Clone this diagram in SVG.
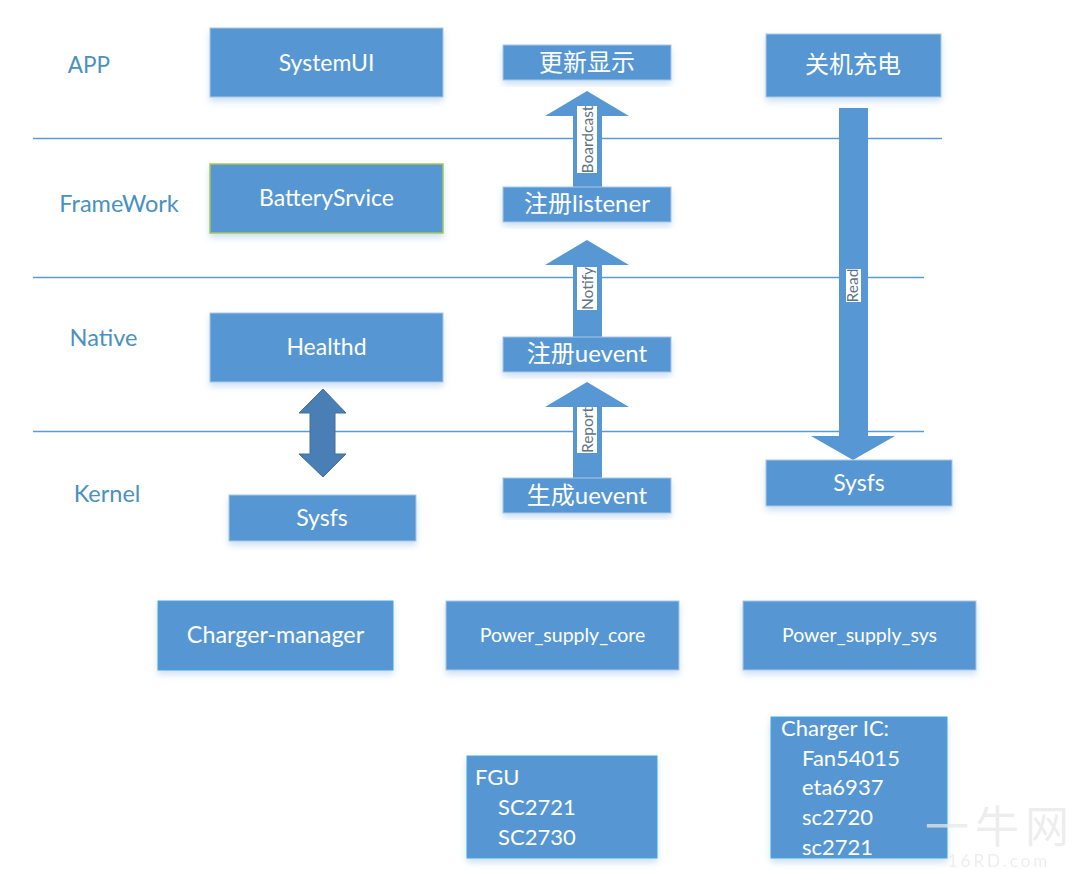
<svg xmlns="http://www.w3.org/2000/svg" width="1079" height="869" viewBox="0 0 1079 869">
<style>
text{font-family:Lato,"Noto Sans CJK SC",sans-serif;}
.box{fill:#5797d3;stroke:#a9c7e6;stroke-width:1;filter:url(#sh);}
.nb{fill:#5797d3;stroke:#41a9e2;stroke-width:1;filter:url(#sh);}
.t{fill:#fff;font-size:23px;text-anchor:middle;}
.l{fill:#fff;font-size:22px;}
.layer{fill:#4a90c0;font-size:23.500px;text-anchor:middle;}
.sep{stroke:#5b9bd5;stroke-width:1.6;fill:none;}
.arrow{fill:#5797d3;}
.lab{fill:#fff;}
.v{fill:#5f7286;font-size:15.500px;text-anchor:middle;}
.wm{fill:#e8e8e8;text-anchor:middle;}
</style>
<defs>
<filter id="sh" x="-10%" y="-15%" width="120%" height="135%">
<feDropShadow dx="0" dy="4" stdDeviation="3" flood-color="#5b9bd5" flood-opacity="0.3"/>
</filter>
</defs>
<rect width="1079" height="869" fill="#fff"/>

<g id="layers">
<text class="layer" x="89" y="73" style="font-size:22.500px">APP</text>
<text class="layer" x="119" y="212">FrameWork</text>
<text class="layer" x="103.500" y="346">Native</text>
<text class="layer" x="107" y="502">Kernel</text>
</g>

<g id="connectors">
<path class="sep" d="M33 138.500H942"/>
<path class="sep" d="M33 277.500H924"/>
<path class="sep" d="M33 431.500H924"/>
<path class="arrow" d="M587 91L629 116H602V188H573V116H545Z"/>
<path class="arrow" d="M587 240L629 265H602V337H573V265H545Z"/>
<path class="arrow" d="M587 382L629 407H602V480H573V407H545Z"/>
<path class="arrow" d="M839 108H868V436H895L853 460L811 436H839Z"/>
<path fill="#4a7fb5" stroke="#41719c" stroke-width="1" d="M323 389L346 413H335V454H346L323 477L299 454H310V413H299Z"/>
<rect class="lab" x="577" y="106" width="20" height="67"/>
<text class="v" transform="translate(592.500 139.500) rotate(-90)">Boardcast</text>
<rect class="lab" x="577" y="267" width="20" height="43"/>
<text class="v" transform="translate(592.500 288.500) rotate(-90)">Notify</text>
<rect class="lab" x="577" y="407" width="20" height="46"/>
<text class="v" transform="translate(592.500 430) rotate(-90)">Report</text>
<rect class="lab" x="846" y="269" width="15" height="33"/>
<text class="v" transform="translate(858 285.500) rotate(-90)">Read</text>
</g>

<g id="systemui"><rect class="box" x="210" y="28" width="233" height="69"/><text class="t" x="326.500" y="71">SystemUI</text></g>
<g id="update"><rect class="box" x="503" y="45" width="168" height="35"/><text class="t" x="587" y="71" style="font-size:24px">更新显示</text></g>
<g id="shutdown-charge"><rect class="box" x="766" y="34" width="175" height="63"/><text class="t" x="853" y="73" style="font-size:24px">关机充电</text></g>
<g id="batteryservice"><rect x="210" y="164" width="233" height="69" fill="#5797d3" stroke="#a5c84f" stroke-width="1.500" filter="url(#sh)"/><text class="t" x="326.500" y="206">BatterySrvice</text></g>
<g id="register-listener"><rect class="box" x="503" y="187" width="168" height="35"/><text class="t" x="587" y="212" style="font-size:24px">注册listener</text></g>
<g id="healthd"><rect class="box" x="210" y="313" width="233" height="69"/><text class="t" x="326.500" y="355">Healthd</text></g>
<g id="register-uevent"><rect class="box" x="503" y="337" width="168" height="35"/><text class="t" x="587" y="362" style="font-size:24px">注册uevent</text></g>
<g id="sysfs-left"><rect class="box" x="229" y="495" width="187" height="46"/><text class="t" x="322" y="526">Sysfs</text></g>
<g id="generate-uevent"><rect class="box" x="503" y="478" width="168" height="35"/><text class="t" x="587" y="504" style="font-size:24px">生成uevent</text></g>
<g id="sysfs-right"><rect class="box" x="766" y="460" width="186" height="46"/><text class="t" x="859" y="491">Sysfs</text></g>
<g id="charger-manager"><rect class="nb" x="158" y="601" width="235" height="69"/><text class="t" x="275.500" y="643" style="font-size:23.300px">Charger-manager</text></g>
<g id="power-supply-core"><rect class="box" x="446" y="601" width="233" height="69"/><text class="t" x="562.500" y="642" style="font-size:19.500px">Power_supply_core</text></g>
<g id="power-supply-sys"><rect class="box" x="743" y="601" width="233" height="69"/><text class="t" x="859.500" y="642" style="font-size:19.500px">Power_supply_sys</text></g>
<g id="fgu"><rect class="nb" x="467" y="756" width="190" height="102"/>
<text class="l" x="475" y="785">FGU</text><text class="l" x="498" y="815">SC2721</text><text class="l" x="498" y="845">SC2730</text></g>
<g id="charger-ic"><rect class="nb" x="771" y="717" width="176" height="141"/>
<text class="l" x="781" y="736">Charger IC:</text><text class="l" x="802" y="766">Fan54015</text><text class="l" x="802" y="795">eta6937</text><text class="l" x="802" y="825">sc2720</text><text class="l" x="802" y="855">sc2721</text></g>

<g id="watermark" opacity="0.75">
<text class="wm" x="1000" y="843" style="font-size:44px;letter-spacing:6px">一牛网</text>
<text class="wm" x="999" y="867" style="font-size:17px;letter-spacing:3px">16RD.com</text>
</g>
</svg>
